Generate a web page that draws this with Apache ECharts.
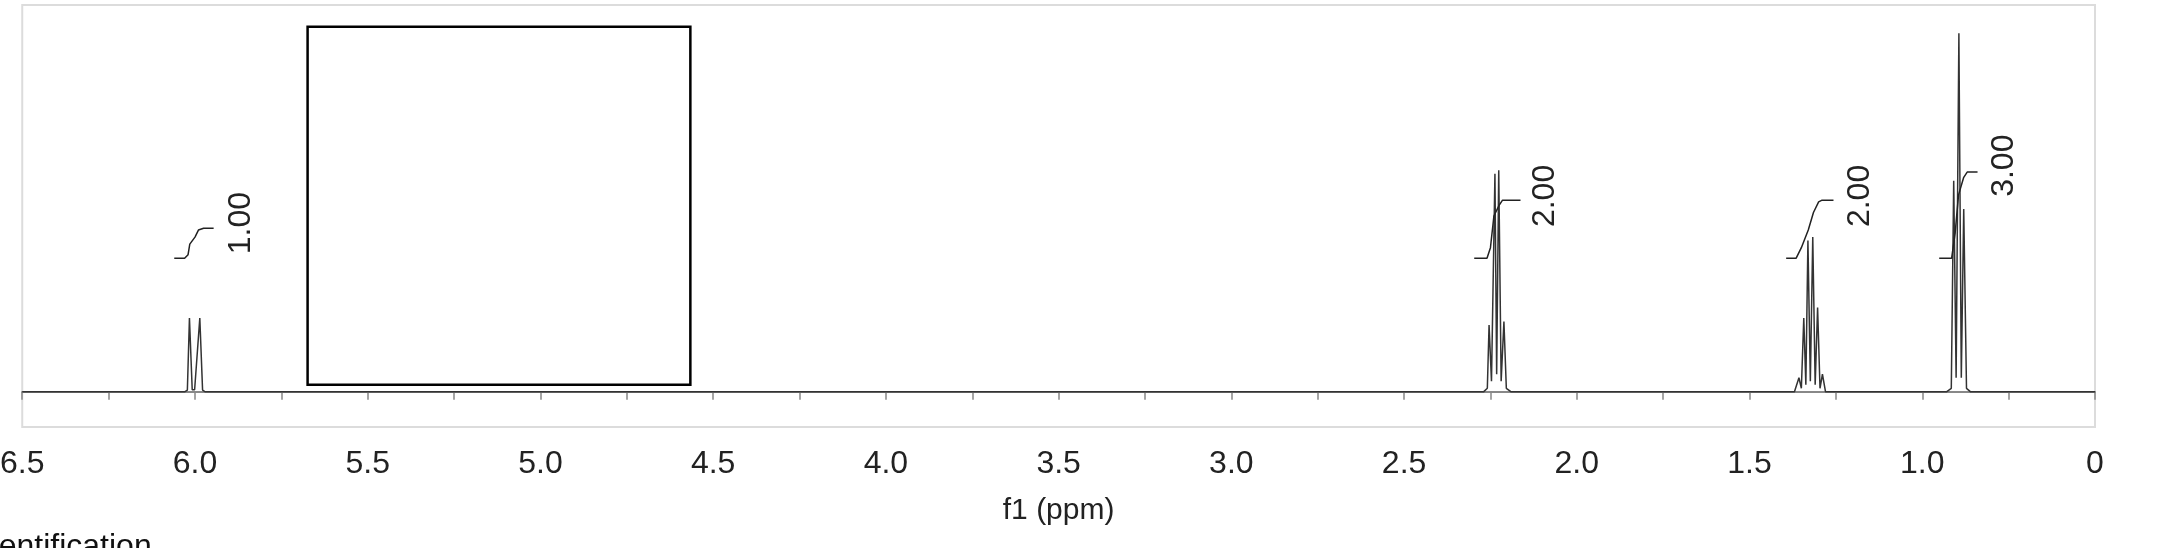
<!DOCTYPE html>
<html>
<head>
<meta charset="utf-8">
<script src="https://cdn.jsdelivr.net/npm/echarts@6/dist/echarts.min.js"></script>
<style>
  html, body { margin: 0; padding: 0; background: #fff; overflow: hidden; }
  #nmr { width: 2161px; height: 548px; margin-left: -3px; }
</style>
</head>
<body>
<div id="nmr"></div>
<script>
// spectrum trace, [ppm, intensity]
var spectrum = [
  [6.5, 0], [6.03, 0], [6.022, 0.5], [6.016, 21], [6.008, 0.6], [6.001, 0.6], [5.986, 21], [5.978, 0.5], [5.97, 0],
  [2.27, 0], [2.259, 1], [2.254, 19], [2.247, 3], [2.237, 62], [2.232, 5], [2.226, 63], [2.219, 3], [2.211, 20], [2.204, 1], [2.19, 0],
  [1.37, 0], [1.357, 4], [1.350, 1], [1.343, 21], [1.337, 2], [1.331, 43], [1.324, 3], [1.317, 44], [1.310, 2], [1.303, 24], [1.296, 1], [1.289, 5], [1.28, 0],
  [0.93, 0], [0.916, 1], [0.909, 60], [0.902, 4], [0.894, 102], [0.887, 4], [0.880, 52], [0.872, 1], [0.86, 0], [0.5, 0]
];

// integral curves
var integral1 = [[6.06, 38], [6.03, 38], [6.02, 39], [6.015, 42], [6.0, 44], [5.99, 46], [5.975, 46.5], [5.946, 46.5]];
var integral2 = [[2.297, 38], [2.26, 38], [2.25, 41], [2.24, 50], [2.225, 53], [2.215, 54.5], [2.163, 54.5]];
var integral3 = [[1.394, 38], [1.365, 38], [1.35, 41], [1.33, 46], [1.315, 51], [1.3, 54], [1.29, 54.5], [1.257, 54.5]];
var integral4 = [[0.951, 38], [0.915, 38], [0.905, 45], [0.895, 56], [0.88, 61], [0.87, 62.5], [0.84, 62.5]];

var integLabels = ['1.00', '2.00', '2.00', '3.00'];
var integLabelX = [5.866, 2.091, 1.18, 0.763];
var integLabelY = [48, 55.7, 55.7, 64.3];

// the empty box drawn over the spectrum
var boxPpm = [5.674, 4.566];
var boxVal = [2, 103.8];

var chart = echarts.init(document.getElementById('nmr'));

function integ(d) {
  return { type: 'line', data: d, showSymbol: false, silent: true,
    lineStyle: { color: '#222', width: 1.5 }, z: 3 };
}

chart.setOption({
  animation: false,
  grid: { left: 0, right: 63, top: 5, bottom: 121, show: true, borderColor: '#dcdcdc', borderWidth: 2 },
  xAxis: {
    type: 'value', inverse: true, min: 0.5, max: 6.5, interval: 0.5, offset: 9,
    name: 'f1 (ppm)', nameLocation: 'middle', nameGap: 60,
    nameTextStyle: { fontFamily: 'Liberation Sans', fontSize: 30, color: '#222' },
    axisLine: { lineStyle: { color: '#888', width: 2 } },
    axisTick: { show: true, length: 8, lineStyle: { color: '#888', width: 1.5 } },
    minorTick: { show: true, splitNumber: 2, length: 8, lineStyle: { color: '#888', width: 1.5 } },
    splitLine: { show: false },
    axisLabel: {
      fontFamily: 'Liberation Sans', fontSize: 32, color: '#222', margin: 12, showMinLabel: true, showMaxLabel: true,
      formatter: function (v) { return v === 0.5 ? '0' : v.toFixed(1); }
    }
  },
  yAxis: { type: 'value', min: -10, max: 110, show: false, splitLine: { show: false } },
  series: [
    {
      type: 'line', data: spectrum, showSymbol: false, silent: true,
      lineStyle: { color: '#333', width: 1.5 }, z: 2,
      markArea: {
        silent: true,
        itemStyle: { color: 'rgba(0,0,0,0)', borderColor: '#000', borderWidth: 2.5 },
        data: [[{ xAxis: boxPpm[0], yAxis: boxVal[0] }, { xAxis: boxPpm[1], yAxis: boxVal[1] }]]
      }
    },
    integ(integral1), integ(integral2), integ(integral3), integ(integral4)
  ]
});

// rotated integral values plus the cut-off caption below
var graphics = integLabels.map(function (t, i) {
  var p = chart.convertToPixel({ gridIndex: 0 }, [integLabelX[i], integLabelY[i]]);
  return {
    type: 'text', id: 'integ' + i, x: p[0], y: p[1], rotation: Math.PI / 2, silent: true,
    style: { text: t, font: '32px "Liberation Sans"', fill: '#222', align: 'center', verticalAlign: 'middle' }
  };
});
graphics.push({
  type: 'text', id: 'caption', x: -25, y: 531, silent: true,
  style: { text: 'Identification', font: '32px "Liberation Sans"', fill: '#111', verticalAlign: 'top' }
});
chart.setOption({ graphic: graphics });
</script>
</body>
</html>
